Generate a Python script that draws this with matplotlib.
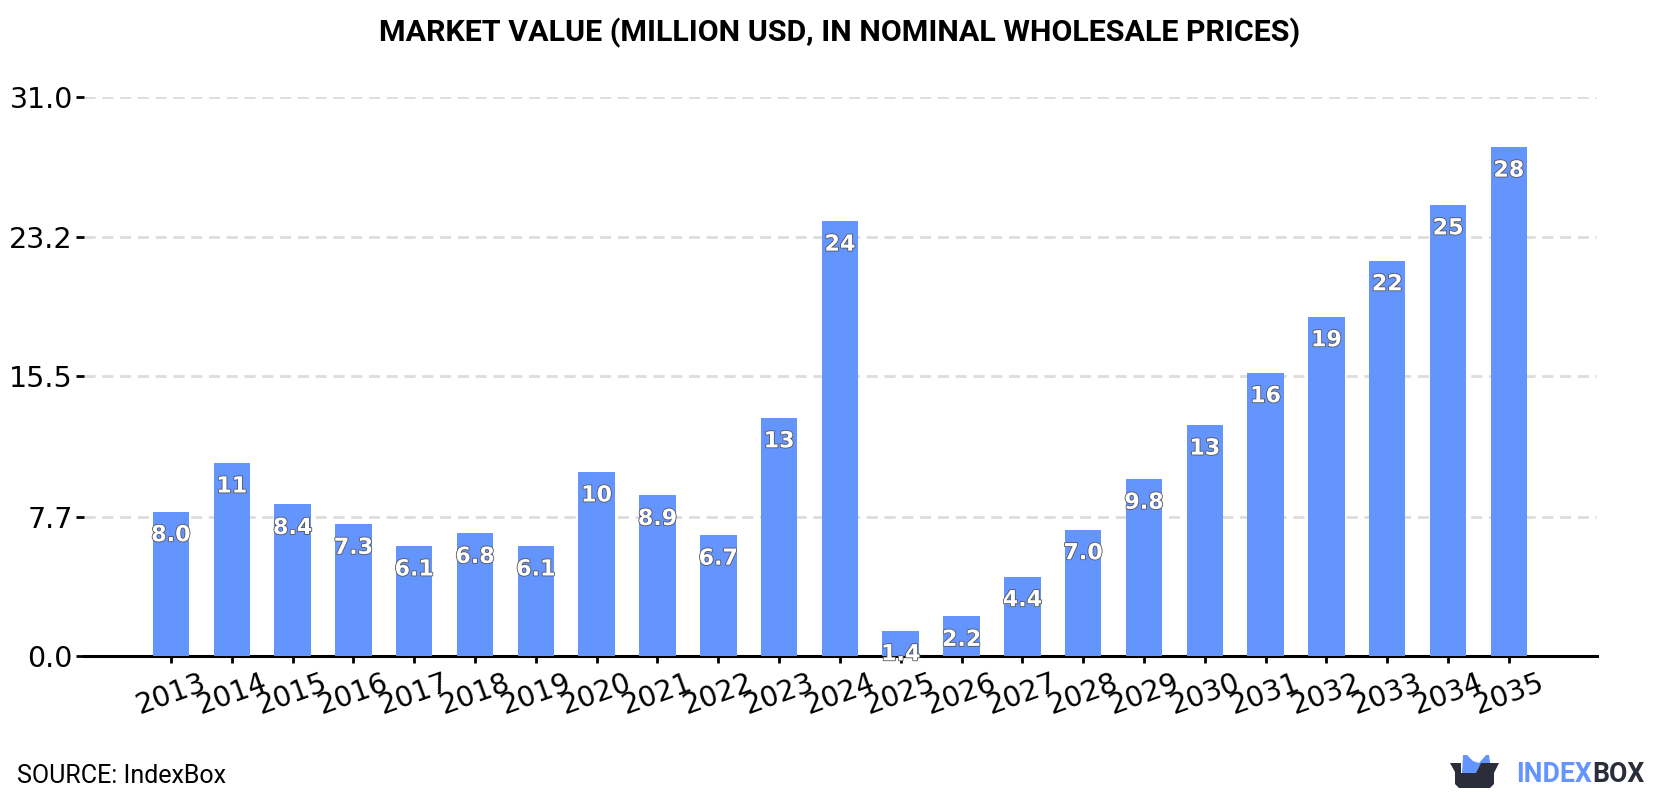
import matplotlib
matplotlib.use('Agg')
import matplotlib.pyplot as plt
import matplotlib.patheffects as pe
from matplotlib.patches import Polygon

years = [2013, 2014, 2015, 2016, 2017, 2018, 2019, 2020, 2021, 2022, 2023, 2024,
         2025, 2026, 2027, 2028, 2029, 2030, 2031, 2032, 2033, 2034, 2035]
values = [8.0, 10.7, 8.4, 7.3, 6.1, 6.8, 6.1, 10.2, 8.9, 6.7, 13.2, 24.1,
          1.4, 2.2, 4.4, 7.0, 9.8, 12.8, 15.7, 18.8, 21.9, 25.0, 28.2]
y_ticks = [0.0, 7.7, 15.5, 23.2, 31.0]

BLUE = '#6495ff'
DARK = '#2b2d3a'
W, H = 1680, 800


def fmt(v):
    # two significant digits, the way the labels are printed on the bars
    return '%.1f' % v if v < 9.95 else '%.0f' % v


fig = plt.figure(figsize=(W / 100, H / 100), dpi=100)
ax = fig.add_axes([84 / W, 1 - 656 / H, (1597 - 84) / W, (656 - 96.5) / H])

x = list(range(len(years)))
ax.bar(x, values, width=0.6, color=BLUE, zorder=3)
ax.set_xlim(-1.43, 23.45)
ax.set_ylim(0, 31)

ax.yaxis.grid(True, color='#dddddd', linestyle=(0, (4, 2.4)), linewidth=2, zorder=0)
ax.set_axisbelow(True)
for side in ['top', 'right', 'left']:
    ax.spines[side].set_visible(False)
ax.spines['bottom'].set_linewidth(2.2)

ax.set_yticks(y_ticks)
ax.set_yticklabels(['%.1f' % t for t in y_ticks], fontsize=20.5)
ax.set_xticks(x)
ax.set_xticklabels(years, fontsize=20.5, rotation=20)
ax.tick_params(axis='y', length=6, width=2, pad=2)
ax.tick_params(axis='x', length=5, width=2, pad=4)

# value labels sit just inside the top of each bar
for i, v in zip(x, values):
    ax.annotate(fmt(v), (i, v), xytext=(0, -17), textcoords='offset points',
                ha='center', va='center', fontsize=16, fontweight='bold',
                color='white', zorder=5, clip_on=False,
                path_effects=[pe.withStroke(linewidth=1.2, foreground='#555555')])

fig.text(0.5, 1 - 33 / H, 'MARKET VALUE (MILLION USD, IN NOMINAL WHOLESALE PRICES)',
         ha='center', va='center', fontsize=21.9, fontweight='bold', family='Roboto')
fig.text(17 / W, 1 - 776 / H, 'SOURCE: IndexBox', ha='left', va='center',
         fontsize=18, family='Roboto')

# logo: open box with blue ears, in pixel coordinates
logo = fig.add_axes([0, 0, 1, 1], facecolor='none')
logo.set_xlim(0, W)
logo.set_ylim(H, 0)
logo.axis('off')
logo.add_patch(Polygon([(1462, 773), (1463, 755), (1467, 755), (1473, 761), (1479, 763),
                       (1486, 755), (1489, 755), (1492, 775), (1476, 777)],
                       closed=True, color=BLUE, lw=0))
logo.add_patch(Polygon([(1450, 763), (1461, 763), (1461, 773), (1476, 773), (1481, 763),
                       (1499, 763), (1494, 773), (1494, 784), (1490, 788), (1459, 788),
                       (1455, 784), (1455, 772)],
                       closed=True, color=DARK, lw=0))
t1 = logo.text(1516, 775, 'INDEX', ha='left', va='center', fontsize=19.2,
               fontweight='bold', family='Roboto', color=BLUE)
fig.canvas.draw()
bb = t1.get_window_extent()
logo.text(bb.x1, 775, 'BOX', ha='left', va='center', fontsize=19.2,
          fontweight='bold', family='Roboto', color=DARK)

fig.savefig('out.png', dpi=100, facecolor='white')
